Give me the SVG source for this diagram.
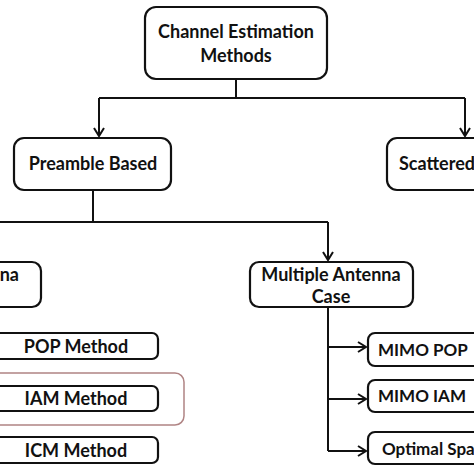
<svg xmlns="http://www.w3.org/2000/svg" width="474" height="474" viewBox="0 0 474 474">
<style>
.box{fill:#fff;stroke:#111;stroke-width:2.2}
.t{font-family:Lato,"Open Sans","Liberation Sans",sans-serif;font-weight:bold;font-size:18px;fill:#111;text-anchor:middle}
.s{font-size:17px;text-anchor:start}
.c{fill:none;stroke:#111;stroke-width:2}
</style>
<defs>
<marker id="a" markerWidth="12" markerHeight="12" refX="10" refY="6" orient="auto" markerUnits="userSpaceOnUse">
<path d="M2,1 L10,6 L2,11" fill="none" stroke="#111" stroke-width="2"/>
</marker>
</defs>
<rect width="474" height="474" fill="#fff"/>
<g id="connectors">
<path class="c" d="M236,79 V98 M99,98 H465"/>
<path class="c" d="M99,98 V136" marker-end="url(#a)"/>
<path class="c" d="M465,98 V136" marker-end="url(#a)"/>
<path class="c" d="M93,190 V222 M0,222 H328"/>
<path class="c" d="M328,222 V260" marker-end="url(#a)"/>
<path class="c" d="M328,307 V451"/>
<path class="c" d="M328,347 H366" marker-end="url(#a)"/>
<path class="c" d="M328,399 H366" marker-end="url(#a)"/>
<path class="c" d="M328,451 H366" marker-end="url(#a)"/>
</g>
<g id="highlight">
<rect x="-20" y="373" width="204" height="52" rx="9" fill="none" stroke="#b08484" stroke-width="1.5"/>
</g>
<g id="n-root">
<rect class="box" x="145" y="7" width="182" height="72" rx="11"/>
<text class="t" x="236" y="38">Channel Estimation</text>
<text class="t" x="236" y="62">Methods</text>
</g>
<g id="n-preamble">
<rect class="box" x="14" y="138" width="157" height="52" rx="10"/>
<text class="t" x="93" y="170">Preamble Based</text>
</g>
<g id="n-scattered">
<rect class="box" x="387" y="138" width="110" height="52" rx="10"/>
<text class="t" x="399" y="170" style="text-anchor:start">Scattered</text>
</g>
<g id="n-single">
<rect class="box" x="-120" y="262" width="161" height="45" rx="9"/>
<text class="t" x="19" y="281" style="text-anchor:end">Single Antenna</text>
</g>
<g id="n-multiple">
<rect class="box" x="250" y="262" width="163" height="45" rx="9"/>
<text class="t" x="331" y="281">Multiple Antenna</text>
<text class="t" x="331" y="303">Case</text>
</g>
<g id="n-pop">
<rect class="box" x="-20" y="333" width="178" height="26" rx="6"/>
<text class="t" x="76" y="353">POP Method</text>
</g>
<g id="n-iam">
<rect class="box" x="-20" y="386" width="178" height="25" rx="6"/>
<text class="t" x="76" y="405">IAM Method</text>
</g>
<g id="n-icm">
<rect class="box" x="-20" y="437" width="178" height="26" rx="6"/>
<text class="t" x="76" y="457">ICM Method</text>
</g>
<g id="n-mimopop">
<rect class="box" x="368" y="333" width="130" height="33" rx="7"/>
<text class="t s" x="378" y="356">MIMO POP</text>
</g>
<g id="n-mimoiam">
<rect class="box" x="368" y="380" width="130" height="32" rx="7"/>
<text class="t s" x="378" y="402">MIMO IAM</text>
</g>
<g id="n-optimal">
<rect class="box" x="368" y="432" width="130" height="32" rx="7"/>
<text class="t s" x="382" y="455">Optimal Spa</text>
</g>
</svg>
